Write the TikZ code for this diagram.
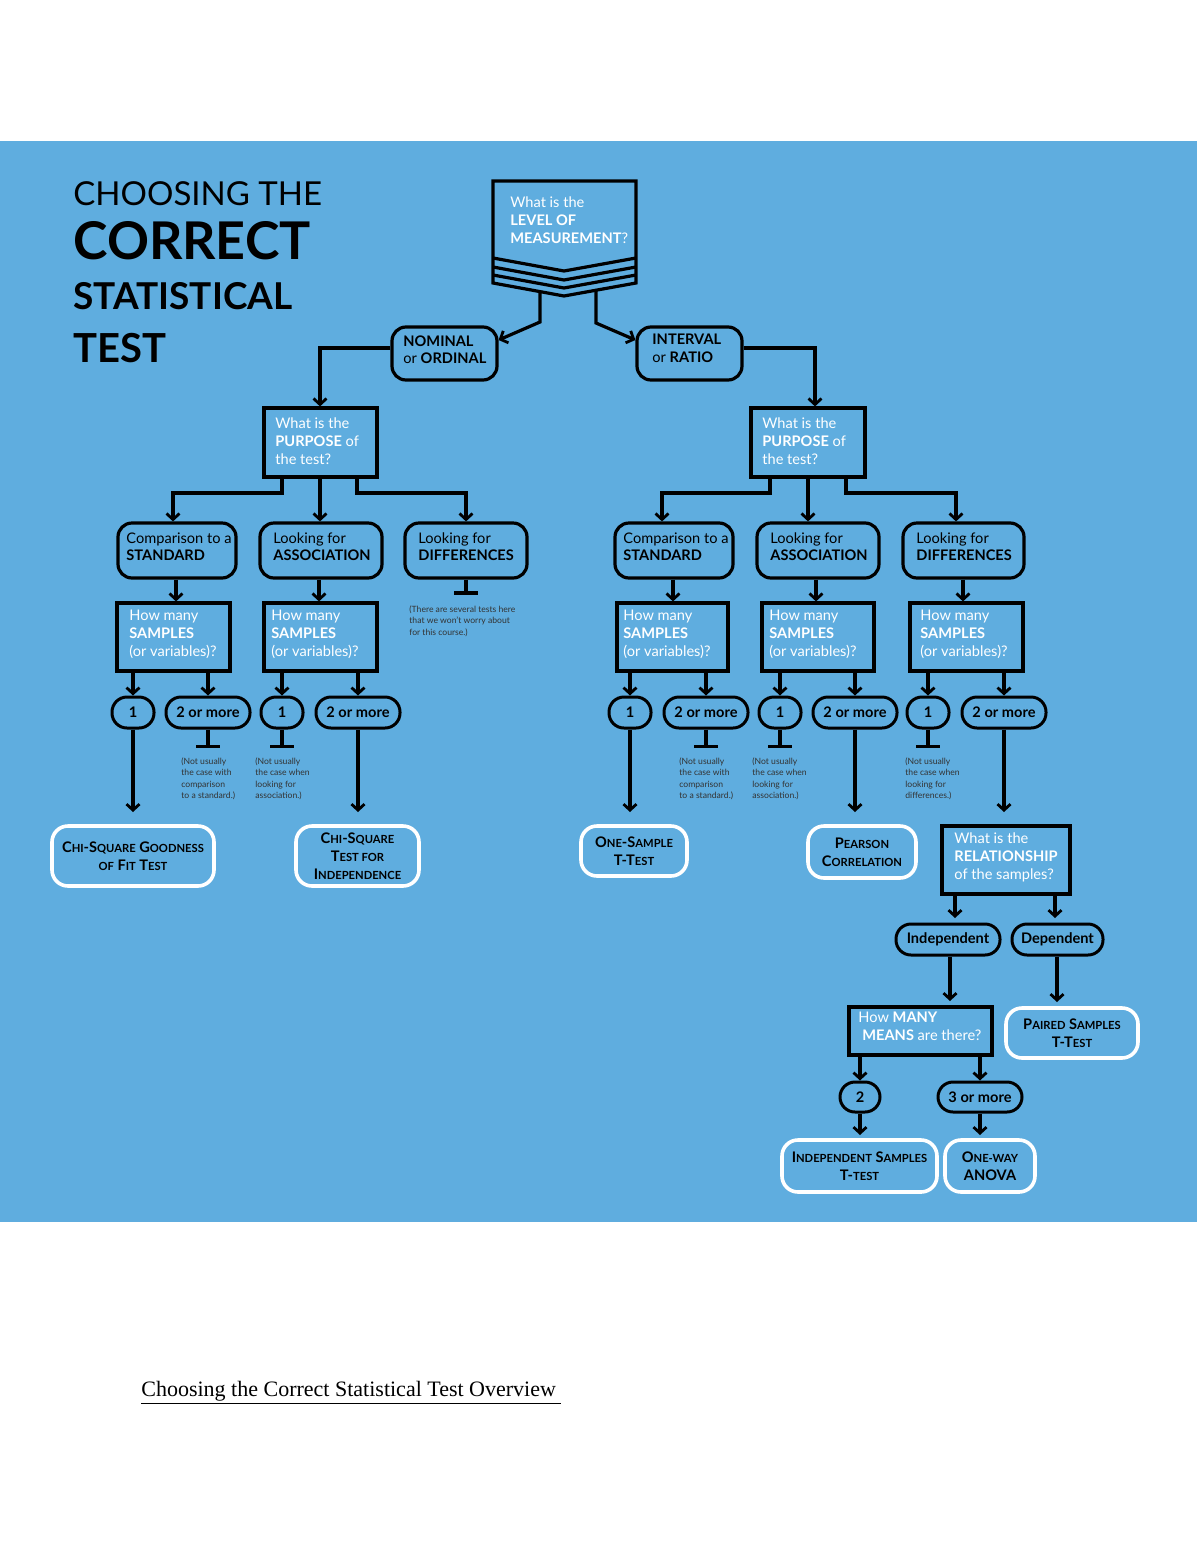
\documentclass[tikz,border=0pt]{standalone}
\usepackage{fontspec}
\setmainfont{Lato}
\newfontfamily\capfont{Liberation Serif}
\usetikzlibrary{arrows.meta,fit}
\definecolor{bg}{HTML}{5FADDF}
\newcommand\sk[1]{{\fontsize{5.6}{6}\selectfont\MakeUppercase{#1}}}
\tikzset{
  x=0.5pt,y=-0.5pt,
  qbox/.style={draw=black,line width=1.6pt,inner sep=0pt},
  obox/.style={draw=black,line width=1.6pt,inner sep=0pt,rounded corners=7pt},
  pill/.style={draw=black,line width=1.5pt,inner sep=0pt,rounded corners=7.5pt},
  rbox/.style={draw=white,line width=1.8pt,inner sep=0pt,rounded corners=8pt},
  wt/.style={text=white,anchor=north west,align=left,inner sep=0pt,font=\fontsize{7.3}{9}\selectfont},
  bt/.style={text=black,anchor=north west,align=left,inner sep=0pt,font=\fontsize{7.3}{8.6}\selectfont},
  ct/.style={text=black,align=center,inner sep=0pt,font=\fontsize{7.3}{9}\selectfont\bfseries},
  nt/.style={text=black!80,anchor=north west,align=left,inner sep=0pt,font=\fontsize{4.3}{5.8}\selectfont},
  ar/.style={line width=1.6pt,-{Straight Barb[length=3pt,width=6.5pt,line width=1.4pt]}},
  ln/.style={line width=1.6pt},
}
\newcommand\B[6]{\node[#1,fit={(#2,#3)(#4,#5)}] (#6) {};}
\begin{document}
\begin{tikzpicture}
\useasboundingbox (0,0) rectangle (1200,1553);
\fill[white] (0,0) rectangle (1200,1553);
\fill[bg] (0,141) rectangle (1197,1222);
% title
\node[anchor=west,inner sep=0pt,font=\fontsize{16.5}{18}\selectfont] (t1) at (73,194) {CHOOSING THE};
\node[anchor=west,inner sep=0pt,font=\fontsize{26}{28}\selectfont\bfseries] (t2) at (73,241) {CORRECT};
\node[anchor=west,inner sep=0pt,font=\fontsize{18.5}{20}\selectfont\bfseries] (t3) at (73,296) {STATISTICAL};
\node[anchor=west,inner sep=0pt,font=\fontsize{20}{22}\selectfont\bfseries] (t4) at (73,348) {TEST};
% level box
\draw[ln,line join=miter] (493,181) -- (636,181) -- (636,283) -- (564,296) -- (493,283) -- cycle;
\foreach \y in {258,267,275} \draw[ln] (493,\y) -- (564,\y+13) -- (636,\y);
\coordinate (lv) at (564,240);
\node[wt] (lvt) at (510,196) {What is the\\\textbf{LEVEL OF}\\\textbf{MEASUREMENT}?};
\coordinate (lvl) at (540,292); \coordinate (lvr) at (596,290);
\B{obox}{392}{327}{497}{380}{nom}
\B{obox}{637}{327}{742}{380}{intv}
\node[bt] at (403,335) {\textbf{NOMINAL}\\or \textbf{ORDINAL}};
\node[bt] at (652,334) {\textbf{INTERVAL}\\or \textbf{RATIO}};
\draw[ar] (lvl) -- (540,322) -- (nom.east|-0,340);
\draw[ar] (lvr) -- (596,323) -- (intv.west|-0,340);
% purpose boxes
\B{qbox}{264}{408}{377}{477}{pl}
\B{qbox}{751}{408}{865}{477}{pr}
\node[wt] at (275,417) {What is the\\\textbf{PURPOSE} of\\the test?};
\node[wt] at (762,417) {What is the\\\textbf{PURPOSE} of\\the test?};
\draw[ar] (nom.west|-0,348) -- (320,348) -- (pl.north-|320,0);
\draw[ar] (intv.east|-0,348) -- (815,348) -- (pr.north-|815,0);
% row3
\B{obox}{118}{523}{236}{578}{sa}
\B{obox}{260}{523}{382}{578}{aa}
\B{obox}{405}{523}{527}{578}{da}
\B{obox}{615}{523}{733}{578}{sb}
\B{obox}{757}{523}{879}{578}{ab}
\B{obox}{903}{523}{1024}{578}{db}
\foreach \x/\n in {126/sat,623/sbt} \node[bt] (\n) at (\x,532) {Comparison to a\\\textbf{STANDARD}};
\foreach \x/\n in {273/aat,770/abt} \node[bt] (\n) at (\x,532) {Looking for\\\textbf{ASSOCIATION}};
\foreach \x/\n in {418/dat,916/dbt} \node[bt] (\n) at (\x,532) {Looking for\\\textbf{DIFFERENCES}};
\draw[ar] (pl.south-|282,0) -- (282,493) -- (173,493) -- (sa.north-|173,0);
\draw[ar] (pl.south-|320,0) -- (aa.north-|320,0);
\draw[ar] (pl.south-|357,0) -- (357,493) -- (466,493) -- (da.north-|466,0);
\draw[ar] (pr.south-|770,0) -- (770,493) -- (662,493) -- (sb.north-|662,0);
\draw[ar] (pr.south-|808,0) -- (ab.north-|808,0);
\draw[ar] (pr.south-|846,0) -- (846,493) -- (956,493) -- (db.north-|956,0);
\coordinate (dt) at (466,593);
\draw[ln] (da.south-|466,0) -- (dt); \draw[ln] (454,593) -- (478,593);
\node[nt] (dn) at (409,605) {(There are several tests here\\that we won't worry about\\for this course.)};
% samples boxes
\B{qbox}{117}{603}{230}{671}{s1}
\B{qbox}{264}{603}{377}{671}{s2}
\B{qbox}{617}{603}{728}{671}{s3}
\B{qbox}{762}{603}{874}{671}{s4}
\B{qbox}{910}{603}{1023}{671}{s5}
\foreach \x/\n in {129/q1,271/q2,623/q3,769/q4,920/q5}
  \node[wt] (\n) at (\x,610) {How many\\\textbf{SAMPLES}\\(or variables)?};
\draw[ar] (sa.south-|176,0) -- (s1.north-|176,0);
\draw[ar] (aa.south-|319,0) -- (s2.north-|319,0);
\draw[ar] (sb.south-|673,0) -- (s3.north-|673,0);
\draw[ar] (ab.south-|816,0) -- (s4.north-|816,0);
\draw[ar] (db.south-|963,0) -- (s5.north-|963,0);
% ovals
\foreach \c/\n/\s in {133/o1a/s1,282/o1b/s2,630/o1c/s3,780/o1d/s4,928/o1e/s5}{
  \B{pill}{\c-21}{697}{\c+21}{728}{\n}
  \node[ct] at (\n) {1};
  \draw[ar] (\s.south-|\n) -- (\n.north);}
\foreach \c/\n/\s in {208/o2a/s1,358/o2b/s2,706/o2c/s3,855/o2d/s4,1004/o2e/s5}{
  \B{pill}{\c-42}{697}{\c+42}{728}{\n}
  \node[ct] at (\n) {2 or more};
  \draw[ar] (\s.south-|\n) -- (\n.north);}
\foreach \n in {o2a,o1b,o2c,o1d,o1e}{
  \draw[ln] (\n.south) -- ++(0,17); \draw[ln] ([shift={(-12,17)}]\n.south) -- ++(24,0);}
\node[nt] (n1) at (181,757) {(Not usually\\the case with\\comparison\\to a standard.)};
\node[nt] (n2) at (255,757) {(Not usually\\the case when\\looking for\\association.)};
\node[nt] (n3) at (679,757) {(Not usually\\the case with\\comparison\\to a standard.)};
\node[nt] (n4) at (752,757) {(Not usually\\the case when\\looking for\\association.)};
\node[nt] (n5) at (905,757) {(Not usually\\the case when\\looking for\\differences.)};
% results
\B{rbox}{52}{826}{214}{886}{gof}
\B{rbox}{296}{826}{419}{886}{ind}
\B{rbox}{581}{826}{687}{876}{ost}
\B{rbox}{808}{826}{916}{878}{pc}
\B{qbox}{942}{826}{1070}{894}{rel}
\node[ct] at (gof) {C\sk{hi}-S\sk{quare} G\sk{oodness}\\\sk{of} F\sk{it} T\sk{est}};
\node[ct] at (ind) {C\sk{hi}-S\sk{quare}\\T\sk{est for}\\I\sk{ndependence}};
\node[ct] at (ost) {O\sk{ne}-S\sk{ample}\\T-T\sk{est}};
\node[ct] at (pc) {P\sk{earson}\\C\sk{orrelation}};
\node[wt] (relt) at (954,832) {What is the\\\textbf{RELATIONSHIP}\\of the samples?};
\draw[ar] (o1a.south) -- (133,812);
\draw[ar] (o2b.south) -- (358,812);
\draw[ar] (o1c.south) -- (630,812);
\draw[ar] (o2d.south) -- (855,812);
\draw[ar] (o2e.south) -- (1004,812);
% relationship
\B{pill}{896}{924}{1000}{955}{inp}
\B{pill}{1012}{924}{1103}{955}{dep}
\node[ct] at (inp) {Independent};
\node[ct] at (dep) {Dependent};
\draw[ar] (rel.south-|955,0) -- (955,918);
\draw[ar] (rel.south-|1055,0) -- (1055,918);
\B{qbox}{849}{1007}{992}{1055}{hm}
\node[wt] (hmt) at (858,1012) {How \textbf{MANY}\\\hspace*{2pt}\textbf{MEANS} are there?};
\B{rbox}{1006}{1008}{1138}{1058}{pst}
\node[ct] at (pst) {P\sk{aired} S\sk{amples}\\T-T\sk{est}};
\draw[ar] (inp.south-|950,0) -- (950,1001);
\draw[ar] (dep.south-|1057,0) -- (1057,1002);
\B{pill}{840}{1082}{880}{1112}{m2}
\B{pill}{938}{1082}{1022}{1112}{m3}
\node[ct] at (m2) {2};
\node[ct] at (m3) {3 or more};
\draw[ar] (hm.south-|860,0) -- (m2.north);
\draw[ar] (hm.south-|980,0) -- (m3.north-|980,0);
\B{rbox}{782}{1140}{937}{1192}{ist}
\B{rbox}{945}{1140}{1035}{1192}{anv}
\node[ct] at (ist) {I\sk{ndependent} S\sk{amples}\\T-\sk{test}};
\node[ct] at (anv) {O\sk{ne-way}\\ANOVA};
\draw[ar] (m2.south) -- (860,1135);
\draw[ar] (m3.south-|980,0) -- (980,1135);
% caption
\node[anchor=west,inner sep=0pt,font=\capfont\fontsize{11}{13}\selectfont] (cap) at (141,1393) {\underline{Choosing the Correct Statistical Test Overview\ }};
\end{tikzpicture}
\end{document}
